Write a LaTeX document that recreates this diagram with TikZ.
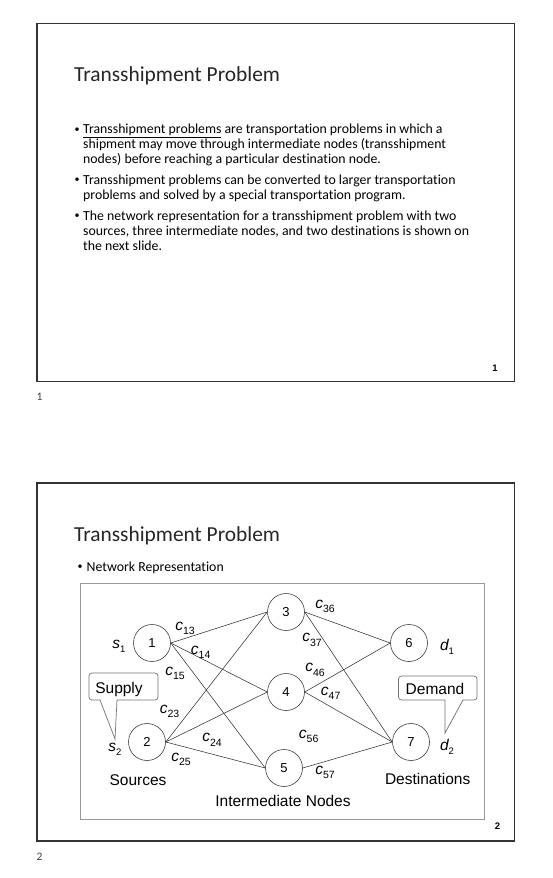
\documentclass[tikz,border=0pt]{standalone}
\usepackage{fontspec}
\setmainfont{Carlito}[Ligatures=NoCommon]
\newfontfamily\arialf{Liberation Sans}
\newcommand{\cij}[2]{{\itshape #1}\raisebox{-0.28em}{\fontsize{10.5}{10.5}\selectfont #2}}
\newcommand{\sdj}[2]{{\itshape #1}\raisebox{-0.28em}{\fontsize{9.5}{9.5}\selectfont #2}}
\begin{document}
\begin{tikzpicture}[x=1pt,y=-1pt,
  frame/.style={draw=black!80, line width=1.6pt},
  ttl/.style={anchor=base west, inner sep=0pt, font=\fontsize{21.4}{24}\selectfont, text=black!85},
  body/.style={anchor=base west, inner sep=0pt, font=\fontsize{13.8}{15}\selectfont},
  bul/.style={anchor=base west, inner sep=0pt, font=\fontsize{10}{10}\selectfont},
  pnum/.style={inner sep=0pt, font=\arialf\bfseries\fontsize{9.5}{9.5}\selectfont},
  side/.style={anchor=base west, inner sep=0pt, font=\fontsize{11.5}{11.5}\selectfont, text=black!75},
  circ/.style={circle, draw=black!75, line width=0.6pt, minimum size=37pt, inner sep=0pt, font=\arialf\fontsize{13}{13}\selectfont},
  edge/.style={draw=black!80, line width=0.55pt},
  cl/.style={anchor=base, inner sep=0pt, font=\arialf\fontsize{15.5}{15.5}\selectfont},
  grp/.style={anchor=base, inner sep=0pt, font=\arialf\fontsize{15.5}{15.5}\selectfont},
  callout/.style={draw=black!55, line width=0.7pt, fill=white}
]
\useasboundingbox (0,0) rectangle (553,878);
\fill[white] (0,0) rectangle (553,878);

% ---------- slide 1 ----------
\draw[frame] (37,23.5) rectangle (514.5,381.5);
\node[ttl] (t1) at (74,81.7) {Transshipment Problem};
\node[bul] (b1) at (74.5,132) {•};
\node[body] (l1) at (83,133.5) {\underline{Transshipment problems} are transportation problems in which a};
\node[body] (l2) at (83,148.5) {shipment may move through intermediate nodes (transshipment};
\node[body] (l3) at (83,163.5) {nodes) before reaching a particular destination node.};
\node[bul] (b2) at (74.5,182.5) {•};
\node[body] (l4) at (83,184) {Transshipment problems can be converted to larger transportation};
\node[body] (l5) at (83,199) {problems and solved by a special transportation program.};
\node[bul] (b3) at (74.5,218.5) {•};
\node[body] (l6) at (83,220) {The network representation for a transshipment problem with two};
\node[body] (l7) at (83,235) {sources, three intermediate nodes, and two destinations is shown on};
\node[body] (l8) at (83,250) {the next slide.};
\node[pnum] (p1) at (495,368.5) {1};
\node[side] (s1lab) at (36.5,400) {1};

% ---------- slide 2 ----------
\draw[frame] (37,483) rectangle (514.5,841);
\node[ttl] (t2) at (74,541.7) {Transshipment Problem};
\node[bul] (b4) at (77.5,569.5) {•};
\node[body] (l9) at (86.5,571) {Network Representation};
\node[pnum] (p2) at (497.5,825.7) {2};
\node[side] (s2lab) at (36.5,860) {2};

\draw[draw=black!40, line width=0.9pt] (80,583) rectangle (484,819);

% nodes
\node[circ] (n1) at (152,643) {1};
\node[circ] (n2) at (147,742) {2};
\node[circ] (n3) at (286,612) {3};
\node[circ] (n4) at (286,692) {4};
\node[circ] (n5) at (284,768) {5};
\node[circ] (n6) at (409,643) {6};
\node[circ] (n7) at (411,742) {7};

% edges
\draw[edge] (n1.east) -- (n3.west);
\draw[edge] (n1.east) -- (n4.west);
\draw[edge] (n1.east) -- (n5.west);
\draw[edge] (n2.east) -- (n3.west);
\draw[edge] (n2.east) -- (n4.west);
\draw[edge] (n2.east) -- (n5.west);
\draw[edge] (n3.east) -- (n6.west);
\draw[edge] (n3.east) -- (n7.west);
\draw[edge] (n4.east) -- (n6.west);
\draw[edge] (n4.east) -- (n7.west);
\draw[edge] (n5.east) -- (n7.west);

% cost labels
\node[cl] (c13) at (185,630) {\cij{c}{13}};
\node[cl] (c14) at (200.7,654) {\cij{c}{14}};
\node[cl] (c15) at (175,675) {\cij{c}{15}};
\node[cl] (c23) at (169.5,713) {\cij{c}{23}};
\node[cl] (c24) at (212,741.7) {\cij{c}{24}};
\node[cl] (c25) at (181,761) {\cij{c}{25}};
\node[cl] (c36) at (325,608) {\cij{c}{36}};
\node[cl] (c37) at (312,641.7) {\cij{c}{37}};
\node[cl] (c46) at (315,671.7) {\cij{c}{46}};
\node[cl] (c47) at (330.7,695) {\cij{c}{47}};
\node[cl] (c56) at (308.7,738) {\cij{c}{56}};
\node[cl] (c57) at (325,774) {\cij{c}{57}};

% supply / demand labels
\node[cl] (s1) at (119,648) {\sdj{s}{1}};
\node[cl] (s2) at (115,751) {\sdj{s}{2}};
\node[cl] (d1) at (447,650) {\sdj{d}{1}};
\node[cl] (d2) at (447,750) {\sdj{d}{2}};

% callouts
\draw[callout] (100,700) [sharp corners] -- (115,739) -- (117,700) [rounded corners=3pt] -- (158,700) -- (158,673) -- (89,673) -- (89,700) [sharp corners] -- cycle;
\node[grp] (supply) at (119,693.3) {Supply};
\draw[callout] (445,700) [sharp corners] -- (445,733) -- (463,700) [rounded corners=3pt] -- (477,700) -- (477,676) -- (398.5,676) -- (398.5,700) [sharp corners] -- cycle;
\node[grp] (demand) at (435,694.3) {Demand};

% group labels
\node[grp] (src) at (138,785) {Sources};
\node[grp] (mid) at (283,806.8) {Intermediate Nodes};
\node[grp] (dst) at (427.7,784) {Destinations};
\end{tikzpicture}
\end{document}
